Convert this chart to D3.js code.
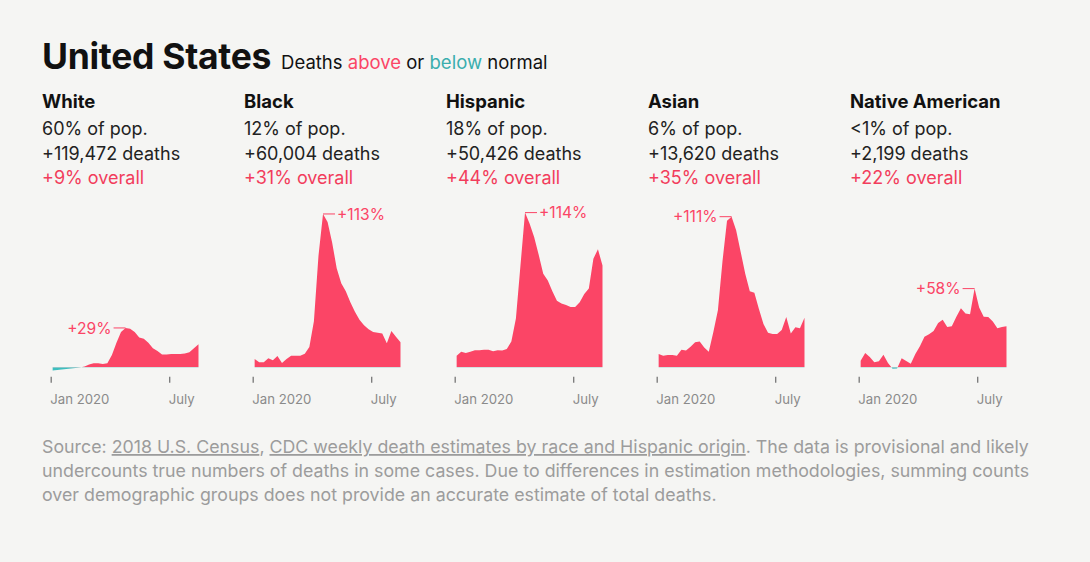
<!DOCTYPE html>
<html>
<head>
<meta charset="utf-8">
<script src="https://cdn.jsdelivr.net/npm/d3@7"></script>
<style>
  body { margin: 0; background: #f5f5f3; }
  svg { display: block; font-family: Inter, "Noto Sans", sans-serif; }
</style>
</head>
<body>
<div id="chart"></div>
<script>
// Data
const groups = ["White", "Black", "Hispanic", "Asian", "Native American"];
const popShare = ["60%", "12%", "18%", "6%", "<1%"];
const excessDeaths = [119472, 60004, 50426, 13620, 2199];
const overallPct = [9, 31, 44, 35, 22];
const labelSide = ["left", "right", "right", "left", "left"];

// week ending dates
const weeks = ["2020-01-04", "2020-01-11", "2020-01-18", "2020-01-25", "2020-02-01", "2020-02-08",
  "2020-02-15", "2020-02-22", "2020-02-29", "2020-03-07", "2020-03-14", "2020-03-21", "2020-03-28",
  "2020-04-04", "2020-04-11", "2020-04-18", "2020-04-25", "2020-05-02", "2020-05-09", "2020-05-16",
  "2020-05-23", "2020-05-30", "2020-06-06", "2020-06-13", "2020-06-20", "2020-06-27", "2020-07-04",
  "2020-07-11", "2020-07-18", "2020-07-25", "2020-08-01", "2020-08-08", "2020-08-15"];

// % above/below normal per week
const white = [-2.4, -2, -1.6, -1.2, -0.8, -0.5, -0.2, 0.5, 2, 3, 3, 2.5, 3, 9, 18, 26, 29, 28.5, 26, 22,
  21, 18, 14, 12, 9.5, 9.5, 9.8, 9.8, 9.8, 10.2, 11, 14, 17];
const black = [6.1, 3.7, 3.7, 6.6, 5.2, 8.4, 3.2, 6.1, 8.6, 8.6, 8.6, 10, 15, 34, 82, 113, 107, 92, 73, 62,
  56, 48, 41, 35, 31, 28, 26, 25.5, 25, 17.7, 26.8, 22.6, 18.4];
const hispanic = [8.6, 11.5, 10.6, 11.5, 12.5, 12.5, 13, 13, 11.8, 12.5, 12.3, 13.5, 19, 36, 75, 114, 106,
  96, 83, 69, 64, 56, 49, 47, 46, 44.5, 44.5, 48, 54, 58, 80, 87, 75];
const asian = [9.8, 8.6, 9.1, 9.1, 8.6, 13, 12.3, 15.2, 18.4, 19, 14.5, 11.5, 26, 42, 78, 108, 111, 101,
  85, 69, 56, 55, 43, 32, 25.5, 24.5, 24.5, 27.5, 37, 25, 29.5, 28.7, 36.6];
const native = [4.9, 10.6, 7.6, 3.7, 4.4, 9.3, 3.2, -1, -0.8, 6.6, 4.7, 2.7, 9.8, 15.5, 22.6, 24.3, 26.8,
  32.7, 35.1, 29.7, 30.2, 37.3, 43.5, 39.6, 39.1, 58, 44, 37.3, 37.1, 33.7, 28.7, 29.7, 30.2];
const series = [white, black, hispanic, asian, native];

const tickDates = ["2020-01-01", "2020-07-01"];
const tickLabels = ["Jan 2020", "July"];

const RED = "#fb4566", TEAL = "#3dbfbf";

function createChart() {
  const W = 1090, H = 562;
  const svg = d3.select("#chart").append("svg")
    .attr("width", W)
    .attr("height", H);

  svg.append("rect").attr("width", W).attr("height", H).attr("fill", "#f5f5f3");

  // Titel
  const title = svg.append("text")
    .attr("x", 42)
    .attr("y", 69)
    .attr("fill", "#111");
  title.append("tspan")
    .attr("font-size", 35.5)
    .attr("font-weight", 700)
    .attr("letter-spacing", -0.3)
    .text("United States");
  title.append("tspan").attr("font-size", 18.5).attr("dx", 10).text("Deaths ");
  title.append("tspan").attr("font-size", 18.5).attr("fill", RED).text("above");
  title.append("tspan").attr("font-size", 18.5).text(" or ");
  title.append("tspan").attr("font-size", 18.5).attr("fill", "#3aaeae").text("below");
  title.append("tspan").attr("font-size", 18.5).text(" normal");

  // gemensamma skalor
  const parse = d3.timeParse("%Y-%m-%d");
  const x = d3.scaleTime()
    .domain(tickDates.map(parse))
    .range([0, 118.5]);
  const baseY = 367.3;
  const y = d3.scaleLinear()
    .domain([0, 100])
    .range([baseY, baseY - 135.7]);

  const dates = weeks.map(parse);
  const fmt = d3.format(",");

  groups.forEach((g, k) => {
    const tx = 42 + k * 202;
    const gx = tx + 8.7;

    // text block
    const block = svg.append("g").attr("transform", `translate(${tx},0)`);
    block.append("text").attr("y", 108).attr("font-size", 18.5).attr("font-weight", 700)
      .attr("fill", "#111").text(g);
    block.append("text").attr("y", 135).attr("font-size", 18).attr("fill", "#222")
      .text(popShare[k] + " of pop.");
    block.append("text").attr("y", 159.5).attr("font-size", 18).attr("fill", "#222")
      .text("+" + fmt(excessDeaths[k]) + " deaths");
    block.append("text").attr("y", 184).attr("font-size", 18).attr("fill", "#f23d5c")
      .text("+" + overallPct[k] + "% overall");

    const panel = svg.append("g").attr("transform", `translate(${gx},0)`);
    const data = series[k].map((v, i) => ({ date: dates[i], v }));

    const area = d3.area()
      .x(d => x(d.date))
      .y0(y(0))
      .y1(d => y(d.v));

    const clipUp = "clipUp" + k, clipDown = "clipDown" + k;
    panel.append("clipPath").attr("id", clipUp)
      .append("rect").attr("x", -5).attr("y", 0).attr("width", 200).attr("height", y(0));
    panel.append("clipPath").attr("id", clipDown)
      .append("rect").attr("x", -5).attr("y", y(0)).attr("width", 200).attr("height", 40);

    panel.append("path").datum(data)
      .attr("d", area)
      .attr("fill", RED)
      .attr("clip-path", `url(#${clipUp})`);
    panel.append("path").datum(data)
      .attr("d", area)
      .attr("fill", TEAL)
      .attr("clip-path", `url(#${clipDown})`);

    // x-axel
    const axis = panel.append("g")
      .attr("transform", `translate(0,${baseY + 9.5})`)
      .call(d3.axisBottom(x)
        .tickValues(tickDates.map(parse))
        .tickSize(6)
        .tickFormat((d, i) => tickLabels[i]));
    axis.select(".domain").remove();
    axis.selectAll("line").attr("stroke", "#777").attr("stroke-width", 1.3);
    axis.selectAll("text")
      .attr("text-anchor", "start")
      .attr("x", -1)
      .attr("y", 27)
      .attr("dy", 0)
      .attr("fill", "#8a8a8a")
      .attr("font-size", 13.2)
      .attr("font-family", "Inter, sans-serif");

    // peak label
    const peak = data.reduce((a, b) => (b.v > a.v ? b : a));
    const px = x(peak.date), py = y(peak.v);
    const dir = labelSide[k] === "left" ? -1 : 1;
    panel.append("line")
      .attr("x1", px).attr("x2", px + dir * 12)
      .attr("y1", py).attr("y2", py)
      .attr("stroke", RED).attr("stroke-width", 1);
    panel.append("text")
      .attr("x", px + dir * 14)
      .attr("y", py)
      .attr("dy", "0.36em")
      .attr("text-anchor", dir < 0 ? "end" : "start")
      .attr("font-size", 15.6)
      .attr("fill", RED)
      .text("+" + Math.round(peak.v) + "%");
  });

  // Källa
  const src = svg.append("g").attr("fill", "#9c9c9c").attr("font-size", 17.8);
  const l1 = src.append("text").attr("x", 42).attr("y", 453);
  l1.append("tspan").text("Source: ");
  l1.append("tspan").attr("text-decoration", "underline").text("2018 U.S. Census");
  l1.append("tspan").text(", ");
  l1.append("tspan").attr("text-decoration", "underline")
    .text("CDC weekly death estimates by race and Hispanic origin");
  l1.append("tspan").text(". The data is provisional and likely");
  src.append("text").attr("x", 42).attr("y", 477)
    .text("undercounts true numbers of deaths in some cases. Due to differences in estimation methodologies, summing counts");
  src.append("text").attr("x", 42).attr("y", 501)
    .text("over demographic groups does not provide an accurate estimate of total deaths.");
}

createChart();
</script>
</body>
</html>
